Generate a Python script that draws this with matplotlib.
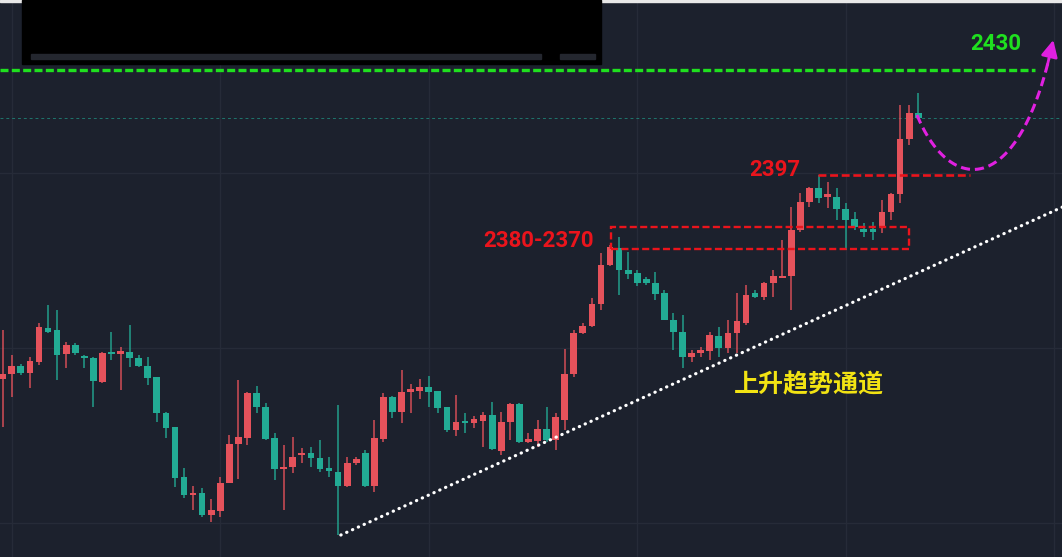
import numpy as np
import matplotlib
matplotlib.use("Agg")
import matplotlib.pyplot as plt
from matplotlib.patches import Rectangle

# ---------------- data ----------------
opens = [2327.0, 2328.6, 2331.3, 2329.0, 2332.6, 2344.0, 2343.3, 2335.3, 2338.3, 2334.6,
         2334.0, 2326.0, 2336.0, 2335.3, 2336.0, 2334.0, 2331.3, 2327.6, 2315.6, 2311.0,
         2294.3, 2288.3, 2289.0, 2281.6, 2283.0, 2292.3, 2305.3, 2307.3, 2322.3, 2317.6,
         2307.3, 2297.0, 2297.6, 2301.6, 2302.3, 2300.6, 2297.3, 2296.0, 2291.3, 2299.0,
         2302.3, 2291.3, 2307.0, 2321.0, 2316.0, 2322.6, 2323.0, 2324.3, 2323.0, 2317.6,
         2310.0, 2313.0, 2312.3, 2313.0, 2315.0, 2303.0, 2312.6, 2318.6, 2306.0, 2306.3,
         2310.3, 2306.6, 2313.3, 2328.6, 2342.3, 2344.6, 2352.0, 2365.0, 2370.6, 2363.3,
         2362.3, 2360.3, 2359.0, 2355.6, 2346.6, 2342.6, 2334.3, 2335.6, 2336.3, 2341.3,
         2337.3, 2342.3, 2345.6, 2355.6, 2354.3, 2359.0, 2360.6, 2361.3, 2376.6, 2386.0,
         2390.6, 2387.6, 2387.6, 2383.6, 2380.3, 2377.0, 2377.0, 2377.6, 2382.6, 2388.6,
         2407.0, 2415.6]
closes = [2328.6, 2331.3, 2329.0, 2333.0, 2344.3, 2342.6, 2335.0, 2338.3, 2335.6, 2334.0,
          2326.3, 2335.6, 2335.3, 2336.3, 2334.0, 2331.3, 2327.3, 2315.6, 2310.6, 2294.0,
          2288.3, 2289.0, 2281.6, 2283.3, 2292.3, 2305.3, 2307.6, 2322.3, 2317.6, 2307.0,
          2297.0, 2297.6, 2301.0, 2302.3, 2300.6, 2297.0, 2296.3, 2291.3, 2299.0, 2300.3,
          2291.3, 2307.3, 2321.0, 2316.0, 2322.6, 2323.6, 2324.3, 2322.6, 2317.3, 2310.0,
          2312.6, 2312.3, 2313.6, 2315.0, 2303.6, 2312.6, 2318.6, 2306.0, 2307.0, 2310.3,
          2306.6, 2314.3, 2328.6, 2342.3, 2344.6, 2352.0, 2365.0, 2371.0, 2363.3, 2362.0,
          2359.0, 2359.0, 2355.3, 2346.6, 2342.6, 2334.3, 2335.6, 2336.6, 2341.6, 2337.3,
          2342.3, 2346.3, 2355.0, 2354.3, 2359.0, 2361.3, 2361.3, 2376.6, 2386.0, 2390.6,
          2387.3, 2388.6, 2383.6, 2380.0, 2377.6, 2376.0, 2376.0, 2382.6, 2388.6, 2407.0,
          2415.6, 2414.0]
highs = [2343.3, 2335.0, 2332.0, 2334.3, 2345.6, 2351.6, 2350.0, 2339.3, 2339.0, 2335.0,
         2334.3, 2336.0, 2342.6, 2337.6, 2345.0, 2335.0, 2334.3, 2327.6, 2316.0, 2311.0,
         2297.3, 2291.3, 2290.6, 2287.0, 2294.3, 2308.3, 2326.6, 2322.6, 2324.6, 2319.0,
         2309.0, 2305.0, 2307.6, 2304.0, 2304.3, 2306.6, 2301.0, 2318.3, 2301.0, 2301.0,
         2303.3, 2313.3, 2322.3, 2321.3, 2330.0, 2325.3, 2327.0, 2328.0, 2323.0, 2317.6,
         2321.6, 2315.6, 2314.6, 2316.0, 2319.3, 2316.0, 2319.0, 2319.0, 2309.0, 2313.3,
         2317.6, 2315.6, 2337.0, 2343.3, 2345.6, 2354.0, 2369.0, 2371.6, 2374.3, 2369.3,
         2363.3, 2361.0, 2362.6, 2356.6, 2349.0, 2348.3, 2336.6, 2337.6, 2342.6, 2344.3,
         2346.6, 2355.6, 2358.3, 2356.6, 2359.3, 2363.3, 2373.3, 2384.3, 2389.0, 2391.0,
         2395.0, 2392.6, 2390.6, 2385.6, 2382.6, 2379.0, 2379.3, 2386.6, 2389.0, 2418.3,
         2418.3, 2422.3]
lows = [2311.0, 2321.0, 2328.3, 2324.0, 2331.6, 2342.3, 2326.6, 2330.6, 2335.0, 2330.6,
        2317.6, 2325.6, 2333.3, 2323.3, 2331.0, 2331.0, 2325.0, 2312.6, 2307.3, 2291.0,
        2287.3, 2283.3, 2281.0, 2279.3, 2281.0, 2292.3, 2293.6, 2305.0, 2315.6, 2306.6,
        2293.3, 2283.3, 2295.6, 2299.0, 2297.6, 2296.0, 2294.3, 2275.0, 2291.0, 2298.3,
        2291.0, 2289.3, 2306.0, 2314.0, 2312.3, 2315.6, 2320.3, 2317.6, 2315.6, 2309.3,
        2308.0, 2309.0, 2310.6, 2304.3, 2303.3, 2301.6, 2306.6, 2305.6, 2305.6, 2304.3,
        2306.0, 2303.3, 2310.0, 2327.6, 2342.0, 2344.3, 2350.0, 2364.6, 2355.0, 2360.3,
        2358.0, 2358.3, 2353.3, 2346.6, 2336.6, 2330.6, 2332.6, 2334.3, 2333.3, 2334.3,
        2335.6, 2335.6, 2345.0, 2354.0, 2353.3, 2354.3, 2360.6, 2350.0, 2376.0, 2384.3,
        2385.6, 2384.0, 2380.0, 2370.0, 2376.6, 2374.3, 2373.3, 2375.6, 2380.0, 2385.6,
        2405.0, 2414.0]

target_level = 2430
resistance_level = 2395.0
zone_top = 2377.7
zone_bottom = 2370.3
label_target = "2430"
label_resistance = "2397"
label_zone = "2380-2370"
label_channel = "上升趋势通道"

# ---------------- style ----------------
BG = "#1c212d"
GRID = "#262b38"
UP = "#e5525b"
DOWN = "#22ab94"
RED = "#ea141c"
GREEN = "#1fe01f"
MAGENTA = "#e020e0"
YELLOW = "#f2e313"

fig = plt.figure(figsize=(10.62, 5.57), dpi=100)
fig.patch.set_facecolor(BG)
ax = fig.add_axes([0, 0, 1, 1])
ax.set_facecolor(BG)

o = np.array(opens); c = np.array(closes)
h = np.array(highs); l = np.array(lows)
x = np.arange(len(o))
col = np.where(c >= o, UP, DOWN)

ax.vlines(x, l, h, colors=col, lw=1.1, alpha=0.9, zorder=3)
bottom = np.minimum(o, c)
height = np.maximum(np.abs(c - o), 0.55)
ax.bar(x, height, bottom=bottom, width=0.74, color=col, edgecolor="none", zorder=4)

ax.set_xlim(-0.3, 116.86)
ax.set_ylim(2267.67, 2453.33)

# faint grid
ax.set_xticks([1, 24, 47, 70, 93, 116])
ax.set_yticks([2279.0, 2337.3, 2395.6])
ax.grid(True, color=GRID, lw=1.0)
ax.set_axisbelow(True)
ax.tick_params(length=0, labelbottom=False, labelleft=False)
for s in ax.spines.values():
    s.set_visible(False)

# last price line
ax.axhline(c[-1], color="#1f8a7c", lw=0.7, ls=(0, (3, 3)), alpha=0.8, zorder=2)

# target line 2430
ax.plot([-0.3, 113.9], [target_level, target_level], color=GREEN, lw=2.4,
        ls=(0, (2.4, 1.0)), zorder=6)
ax.text(109.6, 2438.8, label_target, color=GREEN, fontsize=16, fontweight="bold",
        family="Roboto", ha="center", va="center", zorder=7)

# resistance 2397
ax.plot([89.9, 106.7], [resistance_level, resistance_level], color=RED, lw=1.9,
        ls=(0, (3, 1.4)), zorder=6)
ax.text(85.2, 2396.7, label_resistance, color=RED, fontsize=16, fontweight="bold",
        family="Roboto", ha="center", va="center", zorder=7)

# zone box
ax.add_patch(Rectangle((67.1, zone_bottom), 100.0 - 67.1, zone_top - zone_bottom,
                       fill=False, ec=RED, lw=1.7, ls=(0, (3, 1.4)), zorder=6))
ax.text(59.1, 2373.0, label_zone, color=RED, fontsize=16, fontweight="bold",
        family="Roboto", ha="center", va="center", zorder=7)

# trend line (dotted white)
ax.plot([37.3, 116.9], [2275.0, 2384.3], color="white", lw=2.3,
        ls=(0, (0.1, 1.9)), dash_capstyle="round", zorder=5)
ax.text(88.9, 2325.0, label_channel, color=YELLOW, fontsize=18, fontweight="bold",
        family=["Noto Sans CJK SC", "DejaVu Sans"], ha="center", va="center", zorder=7)

# magenta projected path (cubic bezier)
P = np.array([[100.86, 2415.0], [104.5, 2388.3], [112.2, 2386.7], [115.9, 2440.0]])
t = np.linspace(0, 1, 200)[:, None]
B = ((1 - t) ** 3) * P[0] + 3 * ((1 - t) ** 2) * t * P[1] + 3 * (1 - t) * t ** 2 * P[2] + t ** 3 * P[3]
ax.plot(B[:-8, 0], B[:-8, 1], color=MAGENTA, lw=2.2, ls=(0, (3, 1.6)), zorder=6)
ax.annotate("", xy=(B[-1, 0], B[-1, 1]), xytext=(B[-12, 0], B[-12, 1]),
            arrowprops=dict(arrowstyle="-|>,head_length=1.0,head_width=0.5",
                            color=MAGENTA, lw=2.0, shrinkA=0, shrinkB=0), zorder=7)

# redaction block at top-left
ax.add_patch(Rectangle((0, 1 - 2 / 557), 1, 2 / 557, transform=ax.transAxes,
                       color="#e8e8e8", zorder=9))
ax.add_patch(Rectangle((22 / 1062, 1 - 64 / 557), (601 - 22) / 1062, 64 / 557,
                       transform=ax.transAxes, color="black", zorder=10))
ax.add_patch(Rectangle((31 / 1062, 1 - 59 / 557), (541 - 31) / 1062, 5 / 557,
                       transform=ax.transAxes, color="#24272f", zorder=11))
ax.add_patch(Rectangle((560 / 1062, 1 - 59 / 557), (595 - 560) / 1062, 5 / 557,
                       transform=ax.transAxes, color="#24272f", zorder=11))

fig.savefig("out.png", dpi=100, facecolor=BG)
